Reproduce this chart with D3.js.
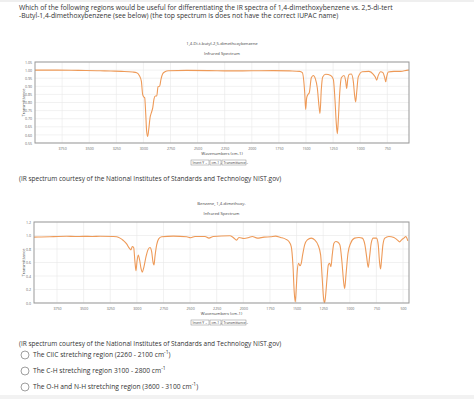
<!DOCTYPE html>
<html>
<head>
<meta charset="utf-8">
<script src="https://cdnjs.cloudflare.com/ajax/libs/d3/7.8.5/d3.min.js"></script>
<style>
  body { margin: 0; background: #fff; }
  svg { display: block; font-family: "Open Sans", sans-serif; }
</style>
</head>
<body>
<div id="chart"></div>
<script>
// ---- data ----
// top spectrum: 1,4-Di-t-butyl-2,5-dimethoxybenzene
var topWn = [4000, 3800, 3600, 3400, 3300, 3200, 3100, 3062, 3038, 3019, 3007, 2998, 2988, 2979, 2970, 2960, 2951, 2939, 2927, 2914, 2902, 2890, 2877, 2865, 2850, 2838, 2822, 2801, 2770, 2600, 2400, 2200, 2000, 1800, 1650, 1560, 1534, 1512, 1503, 1494, 1482, 1470, 1451, 1433, 1414, 1396, 1380, 1371, 1359, 1346, 1318, 1272, 1248, 1233, 1221, 1211, 1202, 1189, 1174, 1150, 1134, 1125, 1115, 1100, 1082, 1064, 1051, 1042, 1033, 1018, 981, 919, 879, 861, 848, 836, 811, 790, 774, 765, 756, 741, 688, 626, 559, 550];
var topT = [1.0, 1.0, 0.998, 0.996, 0.994, 0.992, 0.988, 0.984, 0.967, 0.932, 0.85, 0.835, 0.829, 0.736, 0.622, 0.591, 0.633, 0.705, 0.736, 0.767, 0.823, 0.84, 0.84, 0.897, 0.901, 0.943, 0.978, 0.99, 0.996, 0.998, 0.997, 0.995, 0.996, 0.997, 0.995, 0.992, 0.984, 0.86, 0.757, 0.829, 0.85, 0.86, 0.953, 0.967, 0.947, 0.891, 0.777, 0.732, 0.88, 0.958, 0.974, 0.967, 0.943, 0.819, 0.674, 0.608, 0.694, 0.86, 0.953, 0.967, 0.932, 0.886, 0.943, 0.974, 0.976, 0.932, 0.84, 0.804, 0.86, 0.958, 0.99, 0.992, 0.974, 0.957, 0.938, 0.963, 0.99, 0.984, 0.953, 0.928, 0.958, 0.988, 0.992, 0.992, 1.0, 1.0];
var topXTicks = [3750, 3500, 3250, 3000, 2750, 2500, 2250, 2000, 1750, 1500, 1250, 1000, 750];
var topYTicks = [0.55, 0.60, 0.65, 0.70, 0.75, 0.80, 0.85, 0.90, 0.95, 1.00, 1.05];

// bottom spectrum: Benzene, 1,4-dimethoxy-
var botWn = [3966, 3900, 3816, 3740, 3659, 3580, 3503, 3420, 3346, 3221, 3189, 3158, 3127, 3096, 3071, 3055, 3043, 3030, 3018, 3008, 2999, 2987, 2974, 2961, 2949, 2933, 2914, 2896, 2877, 2861, 2849, 2839, 2830, 2814, 2795, 2767, 2658, 2532, 2494, 2454, 2360, 2323, 2282, 2126, 2095, 2063, 2041, 1994, 1947, 1916, 1869, 1806, 1743, 1697, 1650, 1603, 1572, 1550, 1534, 1522, 1512, 1503, 1494, 1481, 1468, 1456, 1443, 1424, 1399, 1362, 1330, 1299, 1274, 1259, 1246, 1236, 1227, 1214, 1202, 1190, 1177, 1165, 1149, 1130, 1111, 1093, 1074, 1058, 1048, 1036, 1017, 992, 955, 914, 883, 858, 842, 827, 814, 799, 780, 749, 733, 721, 711, 702, 689, 671, 633, 586, 555, 532, 513, 492, 473, 464, 455];
var botT = [0.976, 0.978, 0.982, 0.986, 0.988, 0.985, 0.987, 0.986, 0.988, 0.986, 0.981, 0.961, 0.926, 0.876, 0.812, 0.787, 0.837, 0.822, 0.612, 0.478, 0.612, 0.712, 0.637, 0.513, 0.458, 0.538, 0.687, 0.787, 0.822, 0.762, 0.612, 0.563, 0.687, 0.861, 0.951, 0.981, 0.991, 0.981, 0.966, 0.986, 0.986, 0.961, 0.986, 0.996, 0.971, 0.931, 0.971, 0.956, 0.971, 0.986, 0.961, 0.976, 0.981, 0.991, 0.971, 0.946, 0.911, 0.837, 0.563, 0.164, 0.015, 0.214, 0.463, 0.588, 0.553, 0.588, 0.712, 0.861, 0.936, 0.961, 0.936, 0.861, 0.712, 0.363, 0.065, 0.005, 0.115, 0.363, 0.563, 0.588, 0.538, 0.712, 0.886, 0.911, 0.901, 0.861, 0.612, 0.314, 0.214, 0.413, 0.737, 0.886, 0.961, 0.971, 0.961, 0.861, 0.687, 0.528, 0.687, 0.886, 0.961, 0.961, 0.861, 0.612, 0.503, 0.637, 0.861, 0.961, 0.986, 0.971, 0.936, 0.906, 0.936, 0.961, 0.986, 0.961, 0.921];
var botXTicks = [3750, 3500, 3250, 3000, 2750, 2500, 2250, 2000, 1750, 1500, 1250, 1000, 750, 500];
var botYTicks = [0, 0.2, 0.4, 0.6, 0.8, 1.0, 1.2];

var questionLines = [
  "Which of the following regions would be useful for differentiating the IR spectra of 1,4-dimethoxybenzene vs. 2,5-di-tert",
  "-Butyl-1,4-dimethoxybenzene (see below) (the top spectrum is does not have the correct IUPAC name)"
];
var courtesy = "(IR spectrum courtesy of the National Institutes of Standards and Technology NIST.gov)";
var options = [
  ["The CIIC stretching region (2260 - 2100 cm", "-1", ")"],
  ["The C-H stretching region 3100 - 2800 cm", "-1", ""],
  ["The O-H and N-H stretching region (3600 - 3100 cm", "-1", ")"]
];

var svgWidth = 474;
var svgHeight = 399;

var svg = d3.select("#chart")
  .append("svg")
  .attr("width", svgWidth)
  .attr("height", svgHeight);

svg.append("rect").attr("width", svgWidth).attr("height", svgHeight).attr("fill", "#fff");
svg.append("rect").attr("width", svgWidth).attr("height", 2).attr("fill", "#efefef");
svg.append("rect").attr("y", 395).attr("width", svgWidth).attr("height", 4).attr("fill", "#f2f2f2");

// question text
svg.selectAll(".q")
  .data(questionLines)
  .enter()
  .append("text")
  .attr("class", "q")
  .attr("x", 19)
  .attr("y", (d, i) => 9.5 + i * 8)
  .attr("font-size", "6.75px")
  .attr("fill", "#333")
  .text(d => d);

// one spectrum panel
function drawSpectrum(cfg) {
  var g = svg.append("g");
  var x = d3.scaleLinear().domain(cfg.xDomain).range([cfg.left, cfg.right]);
  var y = d3.scaleLinear().domain(cfg.yDomain).range([cfg.bottom, cfg.top]);
  var midX = (cfg.left + cfg.right) / 2;

  g.append("text").attr("x", midX).attr("y", cfg.top - 17)
    .attr("text-anchor", "middle").attr("font-size", "4.2px").attr("fill", "#444")
    .text(cfg.title);
  g.append("text").attr("x", midX).attr("y", cfg.top - 7)
    .attr("text-anchor", "middle").attr("font-size", "4.2px").attr("fill", "#444")
    .text("Infrared Spectrum");

  // grid
  g.selectAll(".vg").data(cfg.xTicks).enter().append("line")
    .attr("x1", d => x(d)).attr("x2", d => x(d))
    .attr("y1", cfg.top).attr("y2", cfg.bottom)
    .attr("stroke", "#e8e8e8").attr("stroke-width", 0.6);
  g.selectAll(".hg").data(cfg.yTicks).enter().append("line")
    .attr("x1", cfg.left).attr("x2", cfg.right)
    .attr("y1", d => y(d)).attr("y2", d => y(d))
    .attr("stroke", "#e8e8e8").attr("stroke-width", 0.6);

  // axes
  var xAxis = g.append("g")
    .attr("transform", `translate(0, ${cfg.bottom})`)
    .call(d3.axisBottom(x).tickValues(cfg.xTicks).tickSize(0).tickPadding(4).tickFormat(d3.format("d")));
  var yAxis = g.append("g")
    .attr("transform", `translate(${cfg.left}, 0)`)
    .call(d3.axisLeft(y).tickValues(cfg.yTicks).tickSize(0).tickPadding(3).tickFormat(cfg.yFormat));
  [xAxis, yAxis].forEach(function(a) {
    a.select(".domain").remove();
    a.selectAll("text").attr("font-size", "3.6px").attr("fill", "#666").attr("font-family", "Open Sans");
  });

  // spectrum line
  var pts = cfg.wn.map((w, i) => [w, cfg.t[i]]);
  g.append("path")
    .datum(pts)
    .attr("fill", "none")
    .attr("stroke", "#ee9a58")
    .attr("stroke-width", 1.1)
    .attr("d", d3.line().x(d => x(d[0])).y(d => y(d[1])).curve(d3.curveMonotoneX));

  // frame
  g.append("rect")
    .attr("x", cfg.left).attr("y", cfg.top)
    .attr("width", cfg.right - cfg.left).attr("height", cfg.bottom - cfg.top)
    .attr("fill", "none").attr("stroke", "#999").attr("stroke-width", 1);

  // axis titles
  g.append("text")
    .attr("transform", `translate(25, ${(cfg.top + cfg.bottom) / 2}) rotate(-90)`)
    .attr("text-anchor", "middle").attr("font-size", "4.2px").attr("fill", "#444")
    .text("Transmittance");
  g.append("text").attr("x", midX).attr("y", cfg.bottom + 12)
    .attr("text-anchor", "middle").attr("font-size", "4.2px").attr("fill", "#444")
    .text("Wavenumbers (cm-1)");

  // little control boxes
  var ctrl = [["Invert Y", 18], ["cm-1", 11], ["Transmittance", 24]];
  var cx = cfg.ctrlX;
  ctrl.forEach(function(c) {
    g.append("rect").attr("x", cx).attr("y", cfg.bottom + 17)
      .attr("width", c[1]).attr("height", 5)
      .attr("fill", "#fff").attr("stroke", "#888").attr("stroke-width", 0.5);
    g.append("text").attr("x", cx + 1.5).attr("y", cfg.bottom + 20.7)
      .attr("font-size", "3.3px").attr("fill", "#333").text(c[0] + " \u2304");
    cx += c[1] + 1;
  });
}

drawSpectrum({
  title: "1,4-Di-t-butyl-2,5-dimethoxybenzene",
  wn: topWn, t: topT, xTicks: topXTicks, yTicks: topYTicks,
  xDomain: [4000, 550], yDomain: [0.55, 1.05],
  left: 35, right: 409, top: 62, bottom: 143, ctrlX: 191,
  yFormat: d3.format(".2f")
});

drawSpectrum({
  title: "Benzene, 1,4-dimethoxy-",
  wn: botWn, t: botT, xTicks: botXTicks, yTicks: botYTicks,
  xDomain: [3966, 444], yDomain: [0, 1.2],
  left: 34, right: 409, top: 222, bottom: 303, ctrlX: 191,
  yFormat: d3.format(".1f")
});

// courtesy lines
svg.selectAll(".c")
  .data([180.5, 345.5])
  .enter()
  .append("text")
  .attr("x", 19)
  .attr("y", d => d)
  .attr("font-size", "6.5px")
  .attr("fill", "#333")
  .text(courtesy);

// answer options
var optY = [355, 371, 387];
options.forEach(function(o, i) {
  svg.append("circle").attr("cx", 25).attr("cy", optY[i]).attr("r", 4)
    .attr("fill", "#fff").attr("stroke", "#777").attr("stroke-width", 0.7);
  var t = svg.append("text").attr("x", 33).attr("y", optY[i] + 2.4)
    .attr("font-size", "6.7px").attr("fill", "#333");
  t.append("tspan").text(o[0]);
  t.append("tspan").attr("dy", -3).attr("font-size", "5px").text(o[1]);
  t.append("tspan").attr("dy", 3).text(o[2]);
});
</script>
</body>
</html>
